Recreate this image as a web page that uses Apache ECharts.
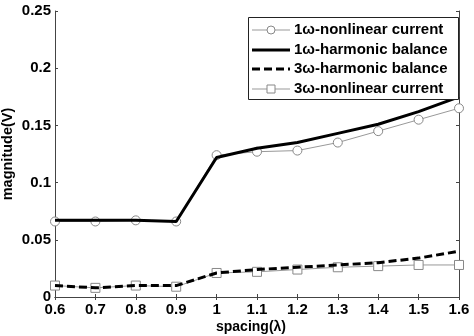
<!DOCTYPE html>
<html>
<head>
<meta charset="utf-8">
<script src="https://cdn.jsdelivr.net/npm/echarts@6/dist/echarts.min.js"></script>
<style>html,body{margin:0;padding:0;background:#fff}#c{width:474px;height:336px}</style>
</head>
<body>
<div id="c"></div>
<script>
const spacing = [0.6, 0.7, 0.8, 0.9, 1.0, 1.1, 1.2, 1.3, 1.4, 1.5, 1.6];
const nc1 = [0.066, 0.066, 0.067, 0.066, 0.124, 0.127, 0.128, 0.135, 0.145, 0.155, 0.165];
const hb1 = [0.067, 0.067, 0.067, 0.066, 0.122, 0.130, 0.135, 0.143, 0.151, 0.162, 0.175];
const hb3 = [0.010, 0.008, 0.010, 0.010, 0.021, 0.024, 0.026, 0.028, 0.030, 0.034, 0.040];
const nc3 = [0.010, 0.008, 0.010, 0.009, 0.021, 0.022, 0.024, 0.026, 0.027, 0.028, 0.028];
const names = ['1ω-nonlinear current', '1ω-harmonic balance', '3ω-harmonic balance', '3ω-nonlinear current'];
const xTicks = ['0.6','0.7','0.8','0.9','1','1.1','1.2','1.3','1.4','1.5','1.6'];
const yTicks = ['0','0.05','0.1','0.15','0.2','0.25'];

const pair = ys => spacing.map((x, i) => [x, ys[i]]);
const font = 'Liberation Sans, Arial, sans-serif';
const axisCommon = {
  axisLine: {show: true, lineStyle: {color: '#444', width: 1}},
  axisTick: {show: true, inside: true, length: 3, lineStyle: {color: '#444'}},
  splitLine: {show: false}
};

// manual legend (box + samples + text)
const lgX = 248, lgY = 17, lgW = 210, lgH = 82, rowY = [30, 50, 69, 89];
const sampleStyles = [
  {stroke: '#999', lineWidth: 1, marker: 'circle'},
  {stroke: '#000', lineWidth: 3},
  {stroke: '#000', lineWidth: 3, lineDash: [8, 4]},
  {stroke: '#999', lineWidth: 1, marker: 'rect'}
];
const legendGraphics = [{
  type: 'rect', shape: {x: lgX + 0.5, y: lgY + 0.5, width: lgW, height: lgH},
  style: {fill: '#fff', stroke: '#222', lineWidth: 1}, z: 100
}];
names.forEach((n, i) => {
  const s = sampleStyles[i], y = rowY[i];
  legendGraphics.push({type: 'line', shape: {x1: 252, y1: y, x2: 290, y2: y},
    style: {stroke: s.stroke, lineWidth: s.lineWidth, lineDash: s.lineDash || null}, z: 101});
  if (s.marker === 'circle') legendGraphics.push({type: 'circle', shape: {cx: 271, cy: y, r: 4},
    style: {fill: '#fff', stroke: '#888', lineWidth: 1}, z: 102});
  if (s.marker === 'rect') legendGraphics.push({type: 'rect', shape: {x: 267, y: y - 4, width: 8, height: 8},
    style: {fill: '#fff', stroke: '#888', lineWidth: 1}, z: 102});
  legendGraphics.push({type: 'text', x: 294, y: y,
    style: {text: n, font: 'bold 15px ' + font, fill: '#000', textVerticalAlign: 'middle', verticalAlign: 'middle'}, z: 102});
});

const chart = echarts.init(document.getElementById('c'));
chart.setOption({
  animation: false,
  backgroundColor: '#fff',
  grid: {left: 55, right: 15, top: 11, bottom: 39, outerBoundsMode: 'none', containLabel: false},
  xAxis: [
    Object.assign({type: 'value', min: 0.6, max: 1.6, interval: 0.1,
      name: 'spacing(λ)', nameLocation: 'middle', nameGap: 23, nameMoveOverlap: false,
      nameTextStyle: {fontFamily: font, fontWeight: 'bold', fontSize: 14, color: '#000', padding: [0, 12, 0, 0]},
      axisLabel: {fontFamily: font, fontWeight: 'bold', fontSize: 15, color: '#000', margin: 5,
        formatter: v => xTicks[Math.round((v - 0.6) * 10)]}}, axisCommon),
    Object.assign({type: 'value', position: 'top', min: 0.6, max: 1.6, interval: 0.1,
      axisLabel: {show: false}}, axisCommon)
  ],
  yAxis: [
    Object.assign({type: 'value', min: 0, max: 0.25, interval: 0.05,
      name: 'magnitude(V)', nameLocation: 'middle', nameGap: 40, nameRotate: 90, nameMoveOverlap: false,
      nameTextStyle: {fontFamily: font, fontWeight: 'bold', fontSize: 14.5, color: '#000'},
      axisLabel: {fontFamily: font, fontWeight: 'bold', fontSize: 15, color: '#000', margin: 4,
        formatter: v => yTicks[Math.round(v / 0.05)]}}, axisCommon),
    Object.assign({type: 'value', position: 'right', min: 0, max: 0.25, interval: 0.05,
      axisLabel: {show: false}}, axisCommon)
  ],
  graphic: legendGraphics,
  series: [
    {name: names[0], type: 'line', data: pair(nc1), symbol: 'circle', symbolSize: 9,
      showAllSymbol: true,
      itemStyle: {color: '#fff', borderColor: '#888', borderWidth: 1},
      lineStyle: {color: '#999', width: 1}, z: 2},
    {name: names[1], type: 'line', data: pair(hb1), symbol: 'none',
      lineStyle: {color: '#000', width: 3}, z: 3},
    {name: names[2], type: 'line', data: pair(hb3), symbol: 'none',
      lineStyle: {color: '#000', width: 3, type: [8, 4]}, z: 3},
    {name: names[3], type: 'line', data: pair(nc3), symbol: 'rect', symbolSize: 9,
      showAllSymbol: true,
      itemStyle: {color: '#fff', borderColor: '#888', borderWidth: 1},
      lineStyle: {color: '#999', width: 1}, z: 2}
  ]
});
</script>
</body>
</html>
